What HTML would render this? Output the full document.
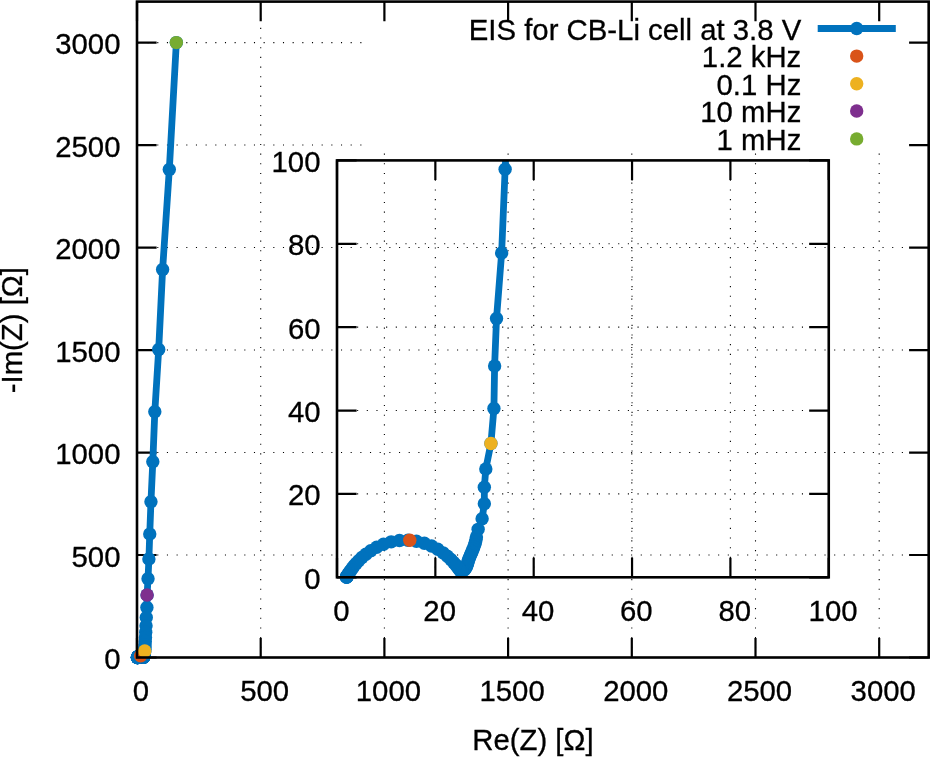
<!DOCTYPE html>
<html><head><meta charset="utf-8"><title>EIS plot</title>
<style>html,body{margin:0;padding:0;background:#fff;}svg{display:block;}</style></head>
<body>
<svg width="930" height="757" viewBox="0 0 930 757">
<rect width="930" height="757" fill="#fff"/>
<defs><clipPath id="cm"><rect x="137.00" y="1.60" width="791.68" height="655.90"/></clipPath><clipPath id="ci"><rect x="337.00" y="160.40" width="491.75" height="416.90"/></clipPath></defs>
<path d="M260.70 657.50V1.60M384.40 657.50V1.60M508.10 657.50V1.60M631.80 657.50V1.60M755.50 657.50V1.60M879.20 657.50V1.60" stroke="#000" stroke-width="1.1" stroke-dasharray="1.1 8.57" fill="none"/>
<path d="M137.00 555.01H928.68M137.00 452.53H928.68M137.00 350.04H928.68M137.00 247.56H928.68M137.00 145.07H928.68M137.00 42.59H928.68" stroke="#000" stroke-width="1.1" stroke-dasharray="1.1 8.57" fill="none" stroke-dashoffset="-0.9"/>
<rect x="364.5" y="1.60" width="564.18" height="150.90" fill="#fff"/>
<g font-family="Liberation Sans, Arial, sans-serif" font-size="29.33" fill="#000" stroke="#000" stroke-width="0.3">
<text transform="translate(801.30 40.00) scale(1 1.0)" text-anchor="end">EIS for CB-Li cell at 3.8 V</text>
<text transform="translate(801.30 67.10) scale(1 1.0)" text-anchor="end">1.2 kHz</text>
<text transform="translate(801.30 94.80) scale(1 1.0)" text-anchor="end">0.1 Hz</text>
<text transform="translate(801.30 122.00) scale(1 1.0)" text-anchor="end">10 mHz</text>
<text transform="translate(801.30 149.90) scale(1 1.0)" text-anchor="end">1 mHz</text>
</g>
<path d="M817.7 28.5H895.8" stroke="#0072bd" stroke-width="6.8"/>
<circle cx="856.7" cy="28.5" r="6.7" fill="#0072bd"/>
<circle cx="856.7" cy="56.1" r="6.7" fill="#d95319"/>
<circle cx="856.7" cy="83.8" r="6.7" fill="#edb120"/>
<circle cx="856.7" cy="111.0" r="6.7" fill="#7e2f8e"/>
<circle cx="856.7" cy="138.9" r="6.7" fill="#77ac30"/>
<path d="M137.00 657.50v-19.6M137.00 657.50h19.6M260.70 657.50v-19.6M137.00 555.01h19.6M384.40 657.50v-19.6M137.00 452.53h19.6M508.10 657.50v-19.6M137.00 350.04h19.6M631.80 657.50v-19.6M137.00 247.56h19.6M755.50 657.50v-19.6M137.00 145.07h19.6M879.20 657.50v-19.6M137.00 42.59h19.6" stroke="#000" stroke-width="2.2" fill="none"/>
<g fill="#0072bd">
<path d="M176.34 42.59 L169.31 169.47 L162.61 269.49 L158.70 349.43 L154.81 411.74 L152.81 461.75 L150.95 501.72 L149.74 534.11 L148.90 558.99 L148.01 578.69 L147.09 594.98 L146.90 607.49 L146.30 617.59 L146.03 625.73 L145.73 632.23 L145.46 637.43 L145.28 641.55 L145.03 644.77 L144.93 647.11 L144.89 649.20 L144.74 650.92 L144.49 652.17 L144.41 653.07 L144.41 653.88 L144.30 654.62 L144.10 655.14 L144.01 655.52 L143.99 655.65 L143.96 655.78 L143.93 655.90 L143.88 656.01 L143.84 656.12 L143.80 656.23 L143.75 656.33 L143.71 656.43 L143.67 656.53 L143.63 656.62 L143.60 656.71 L143.58 656.79 L143.55 656.88 L143.52 656.95 L143.49 657.02 L143.45 657.08 L143.41 657.13 L143.37 657.15 L143.31 657.17 L143.27 657.17 L143.23 657.17 L143.20 657.17 L143.19 657.17 L143.14 657.09 L143.07 657.00 L142.98 656.89 L142.87 656.77 L142.73 656.63 L142.55 656.47 L142.33 656.30 L142.07 656.12 L141.76 655.96 L141.40 655.82 L141.00 655.72 L140.57 655.68 L140.14 655.69 L139.73 655.76 L139.34 655.87 L139.00 656.02 L138.70 656.19 L138.45 656.36 L138.25 656.53 L138.09 656.68 L137.96 656.82 L137.86 656.94 L137.78 657.04 L137.72 657.12 L137.67 657.19 L137.63 657.25 L137.60 657.30 L137.57 657.34 L137.55 657.37 L137.54 657.40 L137.53 657.42 L137.52 657.43 L137.51 657.45 L137.50 657.46 L137.50 657.47 L137.49 657.47 L137.49 657.48 L137.48 657.48 L137.48 657.49 L137.48 657.49 L137.48 657.49" stroke="#0072bd" stroke-width="6.8" fill="none" stroke-linejoin="round" clip-path="url(#cm)"/>
<circle cx="176.34" cy="42.59" r="6.7"/>
<circle cx="169.31" cy="169.47" r="6.7"/>
<circle cx="162.61" cy="269.49" r="6.7"/>
<circle cx="158.70" cy="349.43" r="6.7"/>
<circle cx="154.81" cy="411.74" r="6.7"/>
<circle cx="152.81" cy="461.75" r="6.7"/>
<circle cx="150.95" cy="501.72" r="6.7"/>
<circle cx="149.74" cy="534.11" r="6.7"/>
<circle cx="148.90" cy="558.99" r="6.7"/>
<circle cx="148.01" cy="578.69" r="6.7"/>
<circle cx="147.09" cy="594.98" r="6.7"/>
<circle cx="146.90" cy="607.49" r="6.7"/>
<circle cx="146.30" cy="617.59" r="6.7"/>
<circle cx="146.03" cy="625.73" r="6.7"/>
<circle cx="145.73" cy="632.23" r="6.7"/>
<circle cx="145.46" cy="637.43" r="6.7"/>
<circle cx="145.28" cy="641.55" r="6.7"/>
<circle cx="145.03" cy="644.77" r="6.7"/>
<circle cx="144.93" cy="647.11" r="6.7"/>
<circle cx="144.89" cy="649.20" r="6.7"/>
<circle cx="144.74" cy="650.92" r="6.7"/>
<circle cx="144.49" cy="652.17" r="6.7"/>
<circle cx="144.41" cy="653.07" r="6.7"/>
<circle cx="144.41" cy="653.88" r="6.7"/>
<circle cx="144.30" cy="654.62" r="6.7"/>
<circle cx="144.10" cy="655.14" r="6.7"/>
<circle cx="144.01" cy="655.52" r="6.7"/>
<circle cx="143.99" cy="655.65" r="6.7"/>
<circle cx="143.96" cy="655.78" r="6.7"/>
<circle cx="143.93" cy="655.90" r="6.7"/>
<circle cx="143.88" cy="656.01" r="6.7"/>
<circle cx="143.84" cy="656.12" r="6.7"/>
<circle cx="143.80" cy="656.23" r="6.7"/>
<circle cx="143.75" cy="656.33" r="6.7"/>
<circle cx="143.71" cy="656.43" r="6.7"/>
<circle cx="143.67" cy="656.53" r="6.7"/>
<circle cx="143.63" cy="656.62" r="6.7"/>
<circle cx="143.60" cy="656.71" r="6.7"/>
<circle cx="143.58" cy="656.79" r="6.7"/>
<circle cx="143.55" cy="656.88" r="6.7"/>
<circle cx="143.52" cy="656.95" r="6.7"/>
<circle cx="143.49" cy="657.02" r="6.7"/>
<circle cx="143.45" cy="657.08" r="6.7"/>
<circle cx="143.41" cy="657.13" r="6.7"/>
<circle cx="143.37" cy="657.15" r="6.7"/>
<circle cx="143.31" cy="657.17" r="6.7"/>
<circle cx="143.27" cy="657.17" r="6.7"/>
<circle cx="143.23" cy="657.17" r="6.7"/>
<circle cx="143.20" cy="657.17" r="6.7"/>
<circle cx="143.19" cy="657.17" r="6.7"/>
<circle cx="143.14" cy="657.09" r="6.7"/>
<circle cx="143.07" cy="657.00" r="6.7"/>
<circle cx="142.98" cy="656.89" r="6.7"/>
<circle cx="142.87" cy="656.77" r="6.7"/>
<circle cx="142.73" cy="656.63" r="6.7"/>
<circle cx="142.55" cy="656.47" r="6.7"/>
<circle cx="142.33" cy="656.30" r="6.7"/>
<circle cx="142.07" cy="656.12" r="6.7"/>
<circle cx="141.76" cy="655.96" r="6.7"/>
<circle cx="141.40" cy="655.82" r="6.7"/>
<circle cx="141.00" cy="655.72" r="6.7"/>
<circle cx="140.57" cy="655.68" r="6.7"/>
<circle cx="140.14" cy="655.69" r="6.7"/>
<circle cx="139.73" cy="655.76" r="6.7"/>
<circle cx="139.34" cy="655.87" r="6.7"/>
<circle cx="139.00" cy="656.02" r="6.7"/>
<circle cx="138.70" cy="656.19" r="6.7"/>
<circle cx="138.45" cy="656.36" r="6.7"/>
<circle cx="138.25" cy="656.53" r="6.7"/>
<circle cx="138.09" cy="656.68" r="6.7"/>
<circle cx="137.96" cy="656.82" r="6.7"/>
<circle cx="137.86" cy="656.94" r="6.7"/>
<circle cx="137.78" cy="657.04" r="6.7"/>
<circle cx="137.72" cy="657.12" r="6.7"/>
<circle cx="137.67" cy="657.19" r="6.7"/>
<circle cx="137.63" cy="657.25" r="6.7"/>
<circle cx="137.60" cy="657.30" r="6.7"/>
<circle cx="137.57" cy="657.34" r="6.7"/>
<circle cx="137.55" cy="657.37" r="6.7"/>
<circle cx="137.54" cy="657.40" r="6.7"/>
<circle cx="137.53" cy="657.42" r="6.7"/>
<circle cx="137.52" cy="657.43" r="6.7"/>
<circle cx="137.51" cy="657.45" r="6.7"/>
<circle cx="137.50" cy="657.46" r="6.7"/>
<circle cx="137.50" cy="657.47" r="6.7"/>
<circle cx="137.49" cy="657.47" r="6.7"/>
<circle cx="137.49" cy="657.48" r="6.7"/>
<circle cx="137.48" cy="657.48" r="6.7"/>
<circle cx="137.48" cy="657.49" r="6.7"/>
<circle cx="137.48" cy="657.49" r="6.7"/>
<circle cx="137.48" cy="657.49" r="6.7"/>
</g>
<circle cx="140.66" cy="655.68" r="6.7" fill="#d95319"/>
<circle cx="144.74" cy="650.92" r="6.7" fill="#edb120"/>
<circle cx="147.09" cy="594.98" r="6.7" fill="#7e2f8e"/>
<circle cx="176.34" cy="42.59" r="6.7" fill="#77ac30"/>
<path d="M137.00 1.60v19.6M928.68 657.50h-19.6M260.70 1.60v19.6M928.68 555.01h-19.6M384.40 1.60v19.6M928.68 452.53h-19.6M508.10 1.60v19.6M928.68 350.04h-19.6M631.80 1.60v19.6M928.68 247.56h-19.6M755.50 1.60v19.6M928.68 145.07h-19.6M879.20 1.60v19.6M928.68 42.59h-19.6" stroke="#000" stroke-width="2.2" fill="none"/>
<rect x="137.00" y="1.60" width="791.68" height="655.90" stroke="#000" stroke-width="2.6" fill="none"/>
<g font-family="Liberation Sans, Arial, sans-serif" font-size="29.33" fill="#000" stroke="#000" stroke-width="0.3">
<text transform="translate(141.00 701.10) scale(1 1.0)" text-anchor="middle">0</text>
<text transform="translate(120.50 669.40) scale(1 1.0)" text-anchor="end">0</text>
<text transform="translate(264.70 701.10) scale(1 1.0)" text-anchor="middle">500</text>
<text transform="translate(120.50 566.91) scale(1 1.0)" text-anchor="end">500</text>
<text transform="translate(388.40 701.10) scale(1 1.0)" text-anchor="middle">1000</text>
<text transform="translate(120.50 464.43) scale(1 1.0)" text-anchor="end">1000</text>
<text transform="translate(512.10 701.10) scale(1 1.0)" text-anchor="middle">1500</text>
<text transform="translate(120.50 361.94) scale(1 1.0)" text-anchor="end">1500</text>
<text transform="translate(635.80 701.10) scale(1 1.0)" text-anchor="middle">2000</text>
<text transform="translate(120.50 259.46) scale(1 1.0)" text-anchor="end">2000</text>
<text transform="translate(759.50 701.10) scale(1 1.0)" text-anchor="middle">2500</text>
<text transform="translate(120.50 156.97) scale(1 1.0)" text-anchor="end">2500</text>
<text transform="translate(883.20 701.10) scale(1 1.0)" text-anchor="middle">3000</text>
<text transform="translate(120.50 54.49) scale(1 1.0)" text-anchor="end">3000</text>
<text transform="translate(532.90 750.00) scale(1 1.0)" text-anchor="middle">Re(Z) [Ω]</text>
<text transform="translate(22.20 330.20) rotate(-90) scale(1 1.0)" text-anchor="middle">-Im(Z) [Ω]</text>
</g>
<path d="M435.35 577.30V160.40M533.70 577.30V160.40M632.05 577.30V160.40M730.40 577.30V160.40" stroke="#000" stroke-width="1.1" stroke-dasharray="1.1 8.57" fill="none"/>
<path d="M337.00 493.92H828.75M337.00 410.54H828.75M337.00 327.16H828.75M337.00 243.78H828.75" stroke="#000" stroke-width="1.1" stroke-dasharray="1.1 8.57" fill="none" stroke-dashoffset="-0.75"/>
<path d="M337.00 577.30v-19.6M337.00 160.40v19.6M337.00 577.30h19.6M828.75 577.30h-19.6M435.35 577.30v-19.6M435.35 160.40v19.6M337.00 493.92h19.6M828.75 493.92h-19.6M533.70 577.30v-19.6M533.70 160.40v19.6M337.00 410.54h19.6M828.75 410.54h-19.6M632.05 577.30v-19.6M632.05 160.40v19.6M337.00 327.16h19.6M828.75 327.16h-19.6M730.40 577.30v-19.6M730.40 160.40v19.6M337.00 243.78h19.6M828.75 243.78h-19.6M828.75 577.30v-19.6M828.75 160.40v19.6M337.00 160.40h19.6M828.75 160.40h-19.6" stroke="#000" stroke-width="2.2" fill="none"/>
<g fill="#0072bd">
<path d="M1118.88 -11929.70 L979.23 -9349.09 L845.96 -7314.62 L768.26 -5688.71 L691.06 -4421.33 L651.23 -3404.09 L614.35 -2591.14 L590.25 -1932.44 L573.53 -1426.32 L555.83 -1025.68 L537.63 -694.24 L533.70 -439.94 L521.90 -234.40 L516.49 -68.89 L510.59 63.26 L505.13 169.15 L501.64 252.95 L496.52 318.41 L494.61 365.93 L493.92 408.46 L490.92 443.48 L485.80 468.91 L484.33 487.25 L484.33 503.72 L482.12 518.68 L478.13 529.36 L476.41 536.99 L475.99 539.68 L475.43 542.26 L474.71 544.71 L473.83 547.06 L472.96 549.31 L472.10 551.49 L471.21 553.56 L470.36 555.56 L469.55 557.49 L468.82 559.35 L468.21 561.17 L467.70 562.94 L467.21 564.60 L466.67 566.11 L466.04 567.47 L465.30 568.80 L464.47 569.77 L463.53 570.26 L462.48 570.52 L461.60 570.55 L460.87 570.56 L460.33 570.56 L460.07 570.56 L458.99 569.02 L457.62 567.17 L455.89 564.98 L453.68 562.42 L450.88 559.51 L447.38 556.28 L443.04 552.83 L437.77 549.32 L431.53 546.01 L424.36 543.19 L416.42 541.18 L408.00 540.22 L399.46 540.45 L391.18 541.83 L383.51 544.19 L376.68 547.23 L370.81 550.65 L365.91 554.16 L361.90 557.54 L358.68 560.66 L356.13 563.44 L354.11 565.85 L352.52 567.91 L351.27 569.64 L350.29 571.08 L349.52 572.26 L348.90 573.23 L348.42 574.02 L348.03 574.66 L347.72 575.18 L347.46 575.60 L347.26 575.94 L347.10 576.21 L346.96 576.42 L346.85 576.60 L346.76 576.74 L346.69 576.85 L346.63 576.94 L346.58 577.01 L346.54 577.07 L346.50 577.12" stroke="#0072bd" stroke-width="6.8" fill="none" stroke-linejoin="round" clip-path="url(#ci)"/>
<circle cx="505.13" cy="169.15" r="6.7"/>
<circle cx="501.64" cy="252.95" r="6.7"/>
<circle cx="496.52" cy="318.41" r="6.7"/>
<circle cx="494.61" cy="365.93" r="6.7"/>
<circle cx="493.92" cy="408.46" r="6.7"/>
<circle cx="490.92" cy="443.48" r="6.7"/>
<circle cx="485.80" cy="468.91" r="6.7"/>
<circle cx="484.33" cy="487.25" r="6.7"/>
<circle cx="484.33" cy="503.72" r="6.7"/>
<circle cx="482.12" cy="518.68" r="6.7"/>
<circle cx="478.13" cy="529.36" r="6.7"/>
<circle cx="476.41" cy="536.99" r="6.7"/>
<circle cx="475.99" cy="539.68" r="6.7"/>
<circle cx="475.43" cy="542.26" r="6.7"/>
<circle cx="474.71" cy="544.71" r="6.7"/>
<circle cx="473.83" cy="547.06" r="6.7"/>
<circle cx="472.96" cy="549.31" r="6.7"/>
<circle cx="472.10" cy="551.49" r="6.7"/>
<circle cx="471.21" cy="553.56" r="6.7"/>
<circle cx="470.36" cy="555.56" r="6.7"/>
<circle cx="469.55" cy="557.49" r="6.7"/>
<circle cx="468.82" cy="559.35" r="6.7"/>
<circle cx="468.21" cy="561.17" r="6.7"/>
<circle cx="467.70" cy="562.94" r="6.7"/>
<circle cx="467.21" cy="564.60" r="6.7"/>
<circle cx="466.67" cy="566.11" r="6.7"/>
<circle cx="466.04" cy="567.47" r="6.7"/>
<circle cx="465.30" cy="568.80" r="6.7"/>
<circle cx="464.47" cy="569.77" r="6.7"/>
<circle cx="463.53" cy="570.26" r="6.7"/>
<circle cx="462.48" cy="570.52" r="6.7"/>
<circle cx="461.60" cy="570.55" r="6.7"/>
<circle cx="460.87" cy="570.56" r="6.7"/>
<circle cx="460.33" cy="570.56" r="6.7"/>
<circle cx="460.07" cy="570.56" r="6.7"/>
<circle cx="458.99" cy="569.02" r="6.7"/>
<circle cx="457.62" cy="567.17" r="6.7"/>
<circle cx="455.89" cy="564.98" r="6.7"/>
<circle cx="453.68" cy="562.42" r="6.7"/>
<circle cx="450.88" cy="559.51" r="6.7"/>
<circle cx="447.38" cy="556.28" r="6.7"/>
<circle cx="443.04" cy="552.83" r="6.7"/>
<circle cx="437.77" cy="549.32" r="6.7"/>
<circle cx="431.53" cy="546.01" r="6.7"/>
<circle cx="424.36" cy="543.19" r="6.7"/>
<circle cx="416.42" cy="541.18" r="6.7"/>
<circle cx="408.00" cy="540.22" r="6.7"/>
<circle cx="399.46" cy="540.45" r="6.7"/>
<circle cx="391.18" cy="541.83" r="6.7"/>
<circle cx="383.51" cy="544.19" r="6.7"/>
<circle cx="376.68" cy="547.23" r="6.7"/>
<circle cx="370.81" cy="550.65" r="6.7"/>
<circle cx="365.91" cy="554.16" r="6.7"/>
<circle cx="361.90" cy="557.54" r="6.7"/>
<circle cx="358.68" cy="560.66" r="6.7"/>
<circle cx="356.13" cy="563.44" r="6.7"/>
<circle cx="354.11" cy="565.85" r="6.7"/>
<circle cx="352.52" cy="567.91" r="6.7"/>
<circle cx="351.27" cy="569.64" r="6.7"/>
<circle cx="350.29" cy="571.08" r="6.7"/>
<circle cx="349.52" cy="572.26" r="6.7"/>
<circle cx="348.90" cy="573.23" r="6.7"/>
<circle cx="348.42" cy="574.02" r="6.7"/>
<circle cx="348.03" cy="574.66" r="6.7"/>
<circle cx="347.72" cy="575.18" r="6.7"/>
<circle cx="347.46" cy="575.60" r="6.7"/>
<circle cx="347.26" cy="575.94" r="6.7"/>
<circle cx="347.10" cy="576.21" r="6.7"/>
<circle cx="346.96" cy="576.42" r="6.7"/>
<circle cx="346.85" cy="576.60" r="6.7"/>
<circle cx="346.76" cy="576.74" r="6.7"/>
<circle cx="346.69" cy="576.85" r="6.7"/>
<circle cx="346.63" cy="576.94" r="6.7"/>
<circle cx="346.58" cy="577.01" r="6.7"/>
<circle cx="346.54" cy="577.07" r="6.7"/>
<circle cx="346.50" cy="577.12" r="6.7"/>
</g>
<circle cx="409.78" cy="540.32" r="6.7" fill="#d95319"/>
<circle cx="490.92" cy="443.48" r="6.7" fill="#edb120"/>
<rect x="337.00" y="160.40" width="491.75" height="416.90" stroke="#000" stroke-width="2.6" fill="none"/>
<g font-family="Liberation Sans, Arial, sans-serif" font-size="29.33" fill="#000" stroke="#000" stroke-width="0.3">
<text transform="translate(341.30 621.20) scale(1 1.0)" text-anchor="middle">0</text>
<text transform="translate(320.50 588.70) scale(1 1.0)" text-anchor="end">0</text>
<text transform="translate(439.65 621.20) scale(1 1.0)" text-anchor="middle">20</text>
<text transform="translate(320.50 505.32) scale(1 1.0)" text-anchor="end">20</text>
<text transform="translate(538.00 621.20) scale(1 1.0)" text-anchor="middle">40</text>
<text transform="translate(320.50 421.94) scale(1 1.0)" text-anchor="end">40</text>
<text transform="translate(636.35 621.20) scale(1 1.0)" text-anchor="middle">60</text>
<text transform="translate(320.50 338.56) scale(1 1.0)" text-anchor="end">60</text>
<text transform="translate(734.70 621.20) scale(1 1.0)" text-anchor="middle">80</text>
<text transform="translate(320.50 255.18) scale(1 1.0)" text-anchor="end">80</text>
<text transform="translate(833.05 621.20) scale(1 1.0)" text-anchor="middle">100</text>
<text transform="translate(320.50 171.80) scale(1 1.0)" text-anchor="end">100</text>
</g>
</svg>
</body></html>
